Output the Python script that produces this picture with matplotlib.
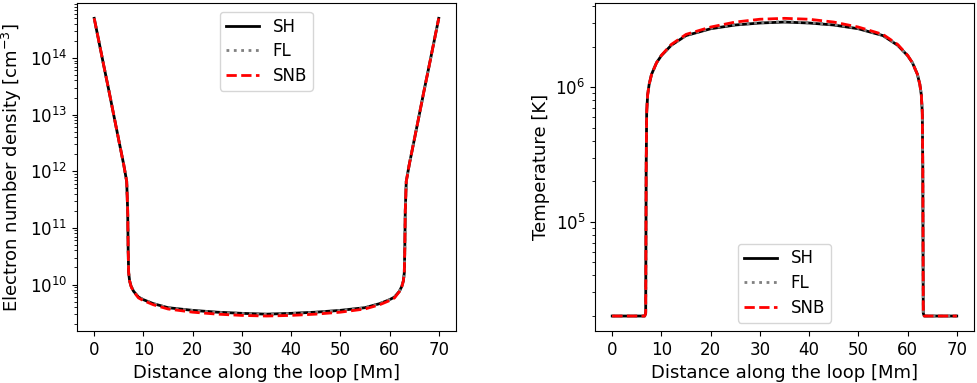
import matplotlib
matplotlib.use("Agg")
import matplotlib.pyplot as plt

# Distance along the loop [Mm]
x = [0, 1, 2, 3, 4, 5, 6, 6.6, 6.8, 6.9, 7.0, 7.2, 7.5, 8, 9, 10, 12, 15, 20, 25, 30, 35,
     40, 45, 50, 55, 58, 60, 61, 62, 62.5, 62.8, 63.0, 63.1, 63.2, 63.4, 64, 65, 66, 67, 68, 69, 70]

# Electron number density [cm^-3]
ne_sh = [5.0e14, 1.86e14, 6.9e13, 2.6e13, 9.5e12, 3.5e12, 1.3e12, 6.6e11, 2.0e11, 4.0e10, 1.6e10,
         1.15e10, 9.3e9, 7.6e9, 6.0e9, 5.4e9, 4.6e9, 3.9e9, 3.5e9, 3.25e9, 3.1e9, 3.0e9,
         3.1e9, 3.25e9, 3.5e9, 3.9e9, 4.6e9, 5.4e9, 6.0e9, 7.6e9, 9.3e9, 1.15e10, 1.6e10,
         4.0e10, 2.0e11, 6.6e11, 1.3e12, 3.5e12, 9.5e12, 2.6e13, 6.9e13, 1.86e14, 5.0e14]
ne_fl = [5.0e14, 1.86e14, 6.9e13, 2.6e13, 9.5e12, 3.5e12, 1.3e12, 6.6e11, 2.0e11, 4.0e10, 1.6e10,
         1.15e10, 9.3e9, 7.6e9, 6.0e9, 5.4e9, 4.6e9, 3.88e9, 3.48e9, 3.22e9, 3.08e9, 2.98e9,
         3.08e9, 3.22e9, 3.48e9, 3.88e9, 4.6e9, 5.4e9, 6.0e9, 7.6e9, 9.3e9, 1.15e10, 1.6e10,
         4.0e10, 2.0e11, 6.6e11, 1.3e12, 3.5e12, 9.5e12, 2.6e13, 6.9e13, 1.86e14, 5.0e14]
ne_snb = [5.0e14, 1.86e14, 6.9e13, 2.6e13, 9.5e12, 3.5e12, 1.3e12, 6.6e11, 2.0e11, 4.0e10, 1.6e10,
          1.15e10, 9.2e9, 7.5e9, 5.8e9, 5.2e9, 4.4e9, 3.7e9, 3.25e9, 3.0e9, 2.85e9, 2.78e9,
          2.85e9, 3.0e9, 3.25e9, 3.7e9, 4.4e9, 5.2e9, 5.8e9, 7.5e9, 9.2e9, 1.15e10, 1.6e10,
          4.0e10, 2.0e11, 6.6e11, 1.3e12, 3.5e12, 9.5e12, 2.6e13, 6.9e13, 1.86e14, 5.0e14]

# Temperature [K]
t_sh = [2.0e4, 2.0e4, 2.0e4, 2.0e4, 2.0e4, 2.0e4, 2.0e4, 2.0e4, 2.1e4, 2.5e5, 6.5e5,
        8.8e5, 1.05e6, 1.25e6, 1.52e6, 1.72e6, 2.05e6, 2.42e6, 2.72e6, 2.9e6, 3.0e6, 3.05e6,
        3.0e6, 2.9e6, 2.72e6, 2.42e6, 2.05e6, 1.72e6, 1.52e6, 1.25e6, 1.05e6, 8.8e5, 6.5e5,
        2.5e5, 2.1e4, 2.0e4, 2.0e4, 2.0e4, 2.0e4, 2.0e4, 2.0e4, 2.0e4, 2.0e4]
t_fl = [2.0e4, 2.0e4, 2.0e4, 2.0e4, 2.0e4, 2.0e4, 2.0e4, 2.0e4, 2.1e4, 2.5e5, 6.5e5,
        8.8e5, 1.05e6, 1.25e6, 1.52e6, 1.72e6, 2.05e6, 2.43e6, 2.74e6, 2.92e6, 3.02e6, 3.07e6,
        3.02e6, 2.92e6, 2.74e6, 2.43e6, 2.05e6, 1.72e6, 1.52e6, 1.25e6, 1.05e6, 8.8e5, 6.5e5,
        2.5e5, 2.1e4, 2.0e4, 2.0e4, 2.0e4, 2.0e4, 2.0e4, 2.0e4, 2.0e4, 2.0e4]
t_snb = [2.0e4, 2.0e4, 2.0e4, 2.0e4, 2.0e4, 2.0e4, 2.0e4, 2.0e4, 2.1e4, 2.5e5, 6.5e5,
         8.8e5, 1.05e6, 1.25e6, 1.52e6, 1.73e6, 2.08e6, 2.47e6, 2.8e6, 3.05e6, 3.2e6, 3.25e6,
         3.2e6, 3.05e6, 2.8e6, 2.47e6, 2.08e6, 1.73e6, 1.52e6, 1.25e6, 1.05e6, 8.8e5, 6.5e5,
         2.5e5, 2.1e4, 2.0e4, 2.0e4, 2.0e4, 2.0e4, 2.0e4, 2.0e4, 2.0e4, 2.0e4]

labels = ["SH", "FL", "SNB"]

plt.rcParams['font.size'] = 12
fig = plt.figure(figsize=(9.77, 3.83), dpi=100)
ax1 = fig.add_axes([0.0788, 0.136, 0.3879, 0.855])
ax2 = fig.add_axes([0.609, 0.136, 0.3879, 0.855])

for ax, series, loc in [(ax1, (ne_sh, ne_fl, ne_snb), "upper center"),
                        (ax2, (t_sh, t_fl, t_snb), "lower center")]:
    ax.plot(x, series[0], color="black", lw=2, ls="-", label=labels[0])
    ax.plot(x, series[1], color="grey", lw=2, ls=":", label=labels[1])
    ax.plot(x, series[2], color="red", lw=2, ls="--", label=labels[2])
    ax.set_yscale("log")
    ax.set_xticks([0, 10, 20, 30, 40, 50, 60, 70])
    ax.set_xlabel("Distance along the loop [Mm]", fontsize=13)
    ax.legend(loc=loc, fontsize=12, labelspacing=0.4, borderpad=0.35)

ax1.set_ylabel(r"Electron number density [cm$^{-3}$]", fontsize=13)
ax2.set_ylabel("Temperature [K]", fontsize=13)

fig.savefig("out.png", dpi=100)
